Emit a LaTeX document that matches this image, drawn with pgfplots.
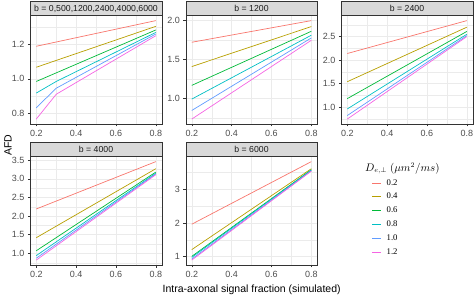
\documentclass[border=0pt]{standalone}
\usepackage{pgfplots}
\pgfplotsset{compat=1.18}
\usepackage{fontspec}
\setmainfont{Liberation Sans}
\newfontfamily\legfont{Liberation Serif}
\definecolor{c1}{HTML}{F8766D}
\definecolor{c2}{HTML}{B79F00}
\definecolor{c3}{HTML}{00BA38}
\definecolor{c4}{HTML}{00BFC4}
\definecolor{c5}{HTML}{619CFF}
\definecolor{c6}{HTML}{F564E3}
\definecolor{gridc}{HTML}{EBEBEB}
\definecolor{borderc}{HTML}{333333}
\definecolor{stripc}{HTML}{D9D9D9}
\definecolor{tickc}{HTML}{4D4D4D}
\definecolor{stript}{HTML}{1A1A1A}
\pgfplotsset{
  panel/.style={
    scale only axis, width=131.5pt, height=108.3pt, anchor=south west,
    xmin=0.17, xmax=0.83, enlarge y limits=0.05,
    xtick={0.2,0.4,0.6,0.8}, minor xtick={0.3,0.5,0.7},
    grid=both,
    major grid style={gridc, line width=0.5pt},
    minor grid style={gridc, line width=0.25pt},
    axis line style={borderc, line width=0.5pt},
    tick pos=left, tick align=outside, major tick length=2.5pt, minor tick length=0pt,
    tick style={borderc, line width=0.5pt},
    ticklabel style={font=\fontsize{9}{10}\selectfont, text=tickc},
    /pgf/number format/assume math mode=true,
    /pgf/number format/fixed, /pgf/number format/fixed zerofill, /pgf/number format/precision=1,
    every axis title shift=0pt,
    title style={at={(0.5,1)}, anchor=south, yshift=0pt, fill=stripc, draw=borderc, line width=0.5pt,
      minimum width=131.5pt, minimum height=14pt, inner sep=0pt, outer sep=0pt,
      font=\fontsize{8.7}{10}\selectfont, text=stript},
    every axis plot/.append style={line width=0.7pt, no marks},
  }
}
\begin{document}
\begin{tikzpicture}
\useasboundingbox (0,0) rectangle (474pt,297pt);

% Panel 1
\begin{axis}[panel, at={(30.3pt,173pt)}, title={b = 0,500,1200,2400,4000,6000},
  ytick={0.8,1.0,1.2}, minor ytick={0.9,1.1,1.3}]
\addplot[c1] coordinates {(0.2,1.188) (0.8,1.336)};
\addplot[c2] coordinates {(0.2,1.067) (0.8,1.303)};
\addplot[c3] coordinates {(0.2,0.985) (0.8,1.282)};
\addplot[c4] coordinates {(0.2,0.918) (0.3,0.985) (0.8,1.268)};
\addplot[c5] coordinates {(0.2,0.833) (0.3,0.946) (0.8,1.259)};
\addplot[c6] coordinates {(0.2,0.768) (0.3,0.911) (0.8,1.249)};
\end{axis}

% Panel 2
\begin{axis}[panel, at={(185.8pt,173pt)}, title={b = 1200},
  ytick={1.0,1.5,2.0}, minor ytick={0.75,1.25,1.75}]
\addplot[c1] coordinates {(0.2,1.72) (0.8,1.996)};
\addplot[c2] coordinates {(0.2,1.41) (0.8,1.92)};
\addplot[c3] coordinates {(0.2,1.17) (0.8,1.86)};
\addplot[c4] coordinates {(0.2,0.995) (0.8,1.81)};
\addplot[c5] coordinates {(0.2,0.85) (0.8,1.775)};
\addplot[c6] coordinates {(0.2,0.74) (0.8,1.745)};
\end{axis}

% Panel 3
\begin{axis}[panel, at={(341.3pt,173pt)}, title={b = 2400},
  ytick={1.0,1.5,2.0,2.5}, minor ytick={0.75,1.25,1.75,2.25,2.75}]
\addplot[c1] coordinates {(0.2,2.14) (0.8,2.84)};
\addplot[c2] coordinates {(0.2,1.54) (0.8,2.70)};
\addplot[c3] coordinates {(0.2,1.18) (0.8,2.61)};
\addplot[c4] coordinates {(0.2,0.96) (0.8,2.55)};
\addplot[c5] coordinates {(0.2,0.82) (0.8,2.52)};
\addplot[c6] coordinates {(0.2,0.745) (0.8,2.50)};
\end{axis}

% Panel 4
\begin{axis}[panel, at={(30.3pt,32pt)}, title={b = 4000},
  ytick={1.0,1.5,2.0,2.5,3.0,3.5}, minor ytick={0.75,1.25,1.75,2.25,2.75,3.25}]
\addplot[c1] coordinates {(0.2,2.19) (0.8,3.46)};
\addplot[c2] coordinates {(0.2,1.42) (0.8,3.27)};
\addplot[c3] coordinates {(0.2,1.07) (0.8,3.18)};
\addplot[c4] coordinates {(0.2,0.94) (0.8,3.15)};
\addplot[c5] coordinates {(0.2,0.87) (0.8,3.13)};
\addplot[c6] coordinates {(0.2,0.82) (0.8,3.11)};
\end{axis}

% Panel 5
\begin{axis}[panel, at={(185.8pt,32pt)}, title={b = 6000},
  ytick={1,2,3}, minor ytick={1.5,2.5,3.5},
  yticklabel style={/pgf/number format/precision=0},
  legend style={at={(1.4137,0.821)}, anchor=north west, draw=none, fill=none,
    inner sep=0pt, outer sep=0pt, row sep=0pt,
    font=\fontsize{8.7}{10}\legfont,
    nodes={inner sep=0pt, minimum height=13.8pt},
    /tikz/every odd column/.append style={column sep=5pt}},
  legend cell align=left,
  legend image code/.code={\draw[#1,line width=0.7pt] (0pt,0pt) -- (9.3pt,0pt);}]
\addplot[c1] coordinates {(0.2,1.96) (0.8,3.81)};
\addlegendentry{0.2}
\addplot[c2] coordinates {(0.2,1.21) (0.8,3.60)};
\addlegendentry{0.4}
\addplot[c3] coordinates {(0.2,1.01) (0.8,3.57)};
\addlegendentry{0.6}
\addplot[c4] coordinates {(0.2,0.98) (0.8,3.56)};
\addlegendentry{0.8}
\addplot[c5] coordinates {(0.2,0.93) (0.8,3.54)};
\addlegendentry{1.0}
\addplot[c6] coordinates {(0.2,0.90) (0.8,3.53)};
\addlegendentry{1.2}
\end{axis}

\node[font=\fontsize{10.5}{12}\selectfont] at (251.7pt,7pt) {Intra-axonal signal fraction (simulated)};
\node[font=\fontsize{10.5}{12}\selectfont, rotate=90] at (8pt,152pt) {AFD};
\node[anchor=west, font=\fontsize{10.5}{12}\selectfont] at (361.7pt,128.7pt) {$D_{e,\perp}\ (\mu m^2/ms)$};
\end{tikzpicture}
\end{document}
